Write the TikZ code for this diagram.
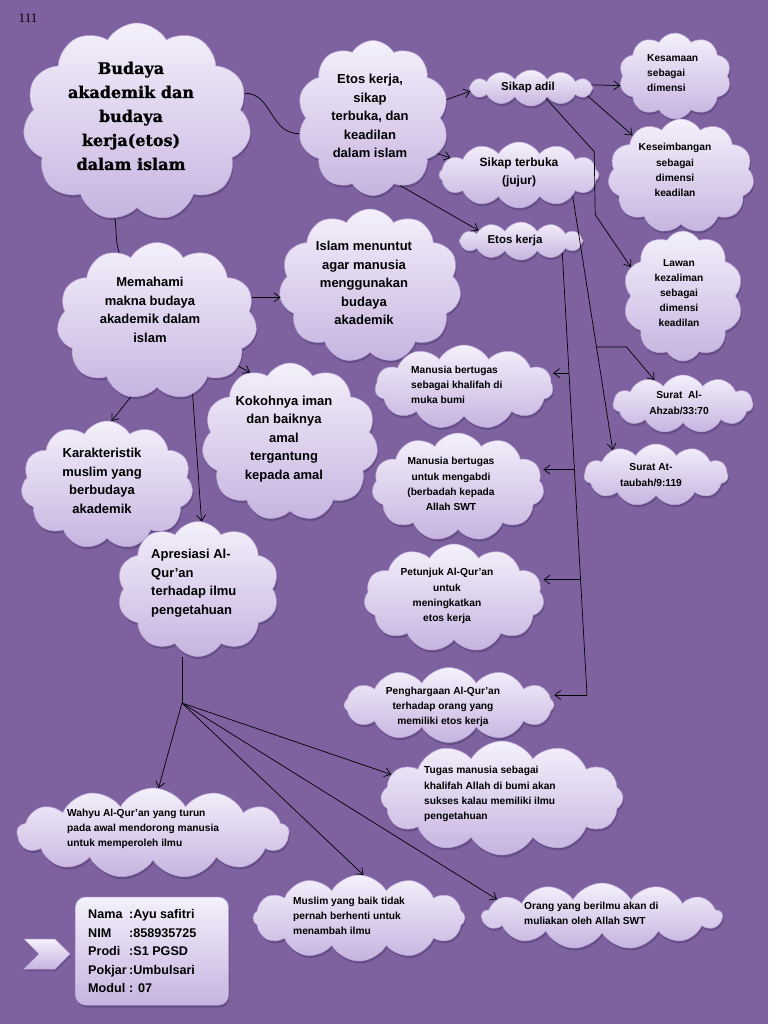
\documentclass[tikz,border=0pt]{standalone}
\usepackage{fontspec}
\setmainfont{Liberation Sans}
\newfontfamily\titlefont[BoldFeatures={FakeBold=1.2}]{DejaVu Serif}
\newfontfamily\numfont{Liberation Serif}
\usetikzlibrary{shapes.symbols,shadows,arrows.meta,calc}
\definecolor{bg}{HTML}{7E62A0}
\definecolor{cltop}{HTML}{F4F0FB}
\definecolor{clbot}{HTML}{C6B4E0}
\definecolor{cledge}{HTML}{B9A6D6}
\definecolor{shadecol}{HTML}{4A3468}
\begin{document}
\begin{tikzpicture}[x=1pt,y=-1pt,
  cl/.style={cloud, cloud ignores aspect, cloud puffs=11, cloud puff arc=120,
    inner sep=0pt, top color=cltop, bottom color=clbot, draw=cledge, line width=0.5pt,
    drop shadow={shadow xshift=1pt, shadow yshift=-2.5pt, opacity=0.45, fill=shadecol}},
  tx/.style={inner sep=0pt, align=center, text=black},
  txl/.style={inner sep=0pt, align=left, anchor=west, text=black},
  big/.style={font=\bfseries\fontsize{13}{18.5}\selectfont},
  mid/.style={font=\bfseries\fontsize{11.5}{17}\selectfont},
  sml/.style={font=\bfseries\fontsize{10.2}{15.2}\selectfont},
  ln/.style={draw=black, line width=0.7pt},
  arr/.style={ln, -{Straight Barb[length=6pt,width=9pt]}}
]
\useasboundingbox (0,0) rectangle (768,1024);
\fill[bg] (0,0) rectangle (768,1024);

\node[inner sep=0pt, font=\numfont\fontsize{13}{15}\selectfont] (pnum) at (28,18) {111};

% clouds
\node[cl, cloud puffs=11, minimum width=228pt, minimum height=198pt] (title) at (137,122) {};
\node[cl, cloud puffs=10, minimum width=152pt, minimum height=155pt] (etos) at (373,118) {};
\node[cl, cloud puffs=12, minimum width=124pt, minimum height=36pt] (adil) at (531,88) {};
\node[cl, cloud puffs=12, minimum width=160pt, minimum height=66pt] (terbuka) at (519,175) {};
\node[cl, cloud puffs=12, minimum width=124pt, minimum height=38pt] (etoskerja) at (521,241) {};
\node[cl, cloud puffs=10, minimum width=112pt, minimum height=86pt] (kesamaan) at (675,76) {};
\node[cl, cloud puffs=11, minimum width=146pt, minimum height=114pt] (keseimbangan) at (681,176) {};
\node[cl, cloud puffs=10, minimum width=120pt, minimum height=130pt] (lawan) at (683,296) {};
\node[cl, cloud puffs=11, minimum width=140pt, minimum height=58pt] (ahzab) at (683,404) {};
\node[cl, cloud puffs=11, minimum width=144pt, minimum height=62pt] (taubah) at (656,475) {};
\node[cl, cloud puffs=11, minimum width=182pt, minimum height=154pt] (islam) at (370,286) {};
\node[cl, cloud puffs=11, minimum width=200pt, minimum height=157pt] (memahami) at (157,321) {};
\node[cl, cloud puffs=11, minimum width=176pt, minimum height=158pt] (kokoh) at (290,442) {};
\node[cl, cloud puffs=11, minimum width=172pt, minimum height=128pt] (karakter) at (107,485) {};
\node[cl, cloud puffs=10, minimum width=162pt, minimum height=135pt] (apresiasi) at (198,589) {};
\node[cl, cloud puffs=11, minimum width=178pt, minimum height=84pt] (khalifah) at (464,387) {};
\node[cl, cloud puffs=11, minimum width=172pt, minimum height=108pt] (mengabdi) at (458,487) {};
\node[cl, cloud puffs=11, minimum width=180pt, minimum height=108pt] (petunjuk) at (454,598) {};
\node[cl, cloud puffs=12, minimum width=210pt, minimum height=75pt] (penghargaan) at (449,705) {};
\node[cl, cloud puffs=12, minimum width=242pt, minimum height=114pt] (tugas) at (502,798) {};
\node[cl, cloud puffs=13, minimum width=272pt, minimum height=90pt] (wahyu) at (153,833) {};
\node[cl, cloud puffs=12, minimum width=212pt, minimum height=86pt] (muslim) at (359,918) {};
\node[cl, cloud puffs=13, minimum width=240pt, minimum height=66pt] (orang) at (602,916) {};

% info box and pointer
\node[rectangle, rounded corners=10pt, minimum width=153pt, minimum height=108pt,
  top color=cltop, bottom color=clbot, draw=cledge, line width=0.5pt,
  drop shadow={shadow xshift=1pt, shadow yshift=-2.5pt, opacity=0.45, fill=shadecol}] (info) at (152,951) {};
\node[signal, signal to=east, signal from=west, minimum width=46pt, minimum height=30pt,
  inner sep=0pt, top color=cltop, bottom color=clbot, draw=cledge, line width=0.5pt,
  drop shadow={shadow xshift=1pt, shadow yshift=-2pt, opacity=0.4, fill=shadecol}] (pointer) at (47,954) {};

% texts
\node[tx, font=\titlefont\bfseries\fontsize{16}{24}\selectfont] (t-title) at (131,116)
  {Budaya\\akademik dan\\budaya\\kerja(etos)\\dalam islam};
\node[tx, big] (t-etos) at (370,116) {Etos kerja,\\sikap\\terbuka, dan\\keadilan\\dalam islam};
\node[tx, mid] (t-adil) at (528,88) {Sikap adil};
\node[tx, mid, font=\bfseries\fontsize{12}{18}\selectfont] (t-terbuka) at (519,172) {Sikap terbuka\\(jujur)};
\node[tx, mid] (t-etoskerja) at (515,241) {Etos kerja};
\node[txl, sml] (t-kesamaan) at (647,73) {Kesamaan\\sebagai\\dimensi};
\node[tx, sml] (t-keseimbangan) at (675,170) {Keseimbangan\\sebagai\\dimensi\\keadilan};
\node[tx, sml] (t-lawan) at (679,293) {Lawan\\kezaliman\\sebagai\\dimensi\\keadilan};
\node[tx, sml] (t-ahzab) at (679,403) {Surat\ \ Al-\\Ahzab/33:70};
\node[tx, sml] (t-taubah) at (651,475) {Surat At-\\taubah/9:119};
\node[tx, big] (t-islam) at (364,283) {Islam menuntut\\agar manusia\\menggunakan\\budaya\\akademik};
\node[tx, big] (t-memahami) at (150,310) {Memahami\\makna budaya\\akademik dalam\\islam};
\node[tx, big] (t-kokoh) at (284,439) {Kokohnya iman\\dan baiknya\\amal\\tergantung\\kepada amal};
\node[tx, big] (t-karakter) at (102,481) {Karakteristik\\muslim yang\\berbudaya\\akademik};
\node[txl, big] (t-apresiasi) at (151,583) {Apresiasi Al-\\Qur’an\\terhadap ilmu\\pengetahuan};
\node[txl, sml] (t-khalifah) at (411,385) {Manusia bertugas\\sebagai khalifah di\\muka bumi};
\node[tx, sml] (t-mengabdi) at (451,484) {Manusia bertugas\\untuk mengabdi\\(berbadah kepada\\Allah SWT};
\node[tx, sml] (t-petunjuk) at (447,596) {Petunjuk Al-Qur’an\\untuk\\meningkatkan\\etos kerja};
\node[tx, sml] (t-penghargaan) at (443,707) {Penghargaan Al-Qur’an\\terhadap orang yang\\memiliki etos kerja};
\node[txl, sml] (t-tugas) at (424,794) {Tugas manusia sebagai\\khalifah Allah di bumi akan\\sukses kalau memiliki ilmu\\pengetahuan};
\node[txl, sml] (t-wahyu) at (67,829) {Wahyu Al-Qur’an yang turun\\pada awal mendorong manusia\\untuk memperoleh ilmu};
\node[txl, sml] (t-muslim) at (293,916) {Muslim yang baik tidak\\pernah berhenti untuk\\menambah ilmu};
\node[txl, sml] (t-orang) at (524,913) {Orang yang berilmu akan di\\muliakan oleh Allah SWT};
\node[txl, font=\bfseries\fontsize{12.6}{18.5}\selectfont] (t-info) at (88,951)
  {\makebox[41pt][l]{Nama}:Ayu safitri\\\makebox[41pt][l]{NIM}:858935725\\\makebox[41pt][l]{Prodi}:S1 PGSD\\\makebox[41pt][l]{Pokjar}:Umbulsari\\\makebox[41pt][l]{Modul}: 07};

% connectors
\draw[ln] (title.15) .. controls +(28,0) and +(-30,0) .. (etos.192);
\draw[ln] (title.-103) .. controls +(2,12) and +(-4,-14) .. (memahami.119);
\draw[arr] (etos.14) -- (adil.183);
\draw[arr] (etos.-29) -- (terbuka.166);
\draw[arr] (etos.-68) -- (etoskerja.166);
\draw[arr] (adil.3) -- (kesamaan.190);
\draw[arr] (adil.-8) -- (keseimbangan.140);
\draw[arr] (adil.-35) -- ++(48,53) -- ++(1,63) -- (lawan.151);
\draw[arr] (terbuka.-21) -- coordinate[pos=0.595] (br1) (taubah.150);
\draw[arr] (br1) -- ++(30,0) -- (ahzab.140);
\coordinate (tk) at (587,695);
\draw[ln] (etoskerja.-16) -- coordinate[pos=0.272] (b1) coordinate[pos=0.490] (b2) coordinate[pos=0.739] (b3) (tk);
\draw[arr] (b1) -- (b1 -| khalifah.east);
\draw[arr] (b2) -- (b2 -| mengabdi.east);
\draw[arr] (b3) -- (b3 -| petunjuk.east);
\draw[arr] (tk) -- (tk -| penghargaan.east);
\draw[arr] (memahami.14) -- (memahami.14 -| islam.west);
\draw[arr] (memahami.-29) -- (kokoh.120);
\draw[arr] (memahami.251) -- (karakter.86);
\draw[arr] (memahami.-64) -- (apresiasi.87);
\coordinate (hub) at (182,703);
\draw[ln] (apresiasi.south -| hub) -- (hub);
\draw[arr] (hub) -- (wahyu.83);
\draw[arr] (hub) -- (tugas.168);
\draw[arr] (hub) -- (muslim.84);
\draw[arr] (hub) -- (orang.171);
\end{tikzpicture}
\end{document}
